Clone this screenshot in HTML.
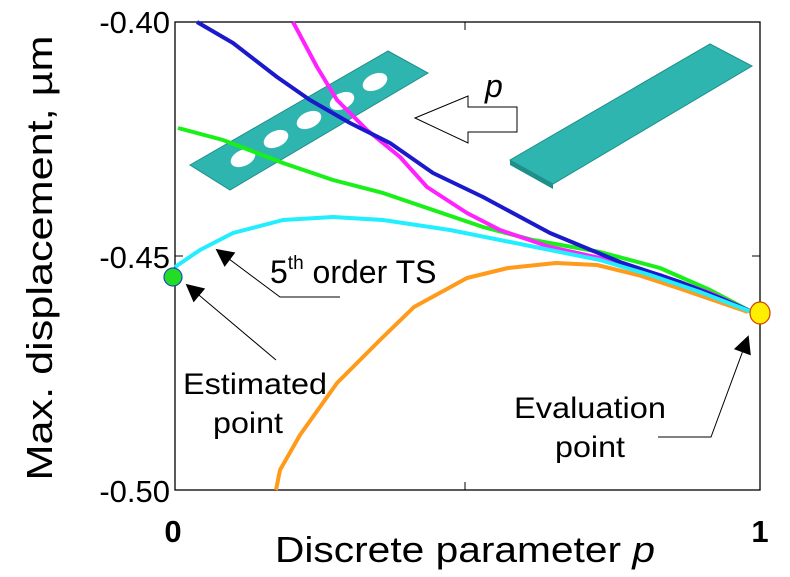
<!DOCTYPE html>
<html><head><style>body{margin:0;background:#fff}svg{display:block}</style></head><body>
<svg width="790" height="577" viewBox="0 0 790 577" xmlns="http://www.w3.org/2000/svg" font-family="Liberation Sans, sans-serif">
<defs>
<marker id="ah2" viewBox="0 0 10 10" markerWidth="22" markerHeight="18" refX="9" refY="5" orient="auto" markerUnits="userSpaceOnUse"><path d="M0,0 L10,5 L0,10 z" fill="#000"/></marker></defs>
<rect x="175" y="22" width="585" height="468" fill="none" stroke="#000" stroke-width="1.3"/>
<line x1="465" y1="490" x2="465" y2="482" stroke="#000"/><line x1="465" y1="22" x2="465" y2="30" stroke="#000"/>
<line x1="175" y1="256" x2="183" y2="256" stroke="#000"/><line x1="760" y1="256" x2="752" y2="256" stroke="#000"/>
<g font-size="31" text-anchor="end"><text x="170" y="33">-0.40</text><text x="170" y="268">-0.45</text><text x="170" y="502">-0.50</text></g>
<g font-size="31" font-weight="bold" text-anchor="middle"><text x="173" y="542">0</text><text x="760" y="542">1</text></g>
<text x="275" y="562" font-size="36" textLength="380" lengthAdjust="spacingAndGlyphs">Discrete parameter <tspan font-style="italic">p</tspan></text>
<text transform="translate(52,258) rotate(-90)" font-size="36" text-anchor="middle" textLength="445" lengthAdjust="spacingAndGlyphs">Max. displacement, µm</text>
<!-- plates -->
<polygon points="190,165 388,51 428,73 230,190" fill="#2fb5b0" stroke="#1f8f8a"/>
<g fill="#fff"><ellipse cx="243" cy="158" rx="13" ry="8" transform="rotate(-25 243 158)"/><ellipse cx="276" cy="139" rx="13" ry="8" transform="rotate(-25 276 139)"/><ellipse cx="309" cy="120" rx="13" ry="8" transform="rotate(-25 309 120)"/><ellipse cx="342" cy="101" rx="13" ry="8" transform="rotate(-25 342 101)"/><ellipse cx="375" cy="82" rx="13" ry="8" transform="rotate(-25 375 82)"/></g>
<polygon points="510,160 710,44 752,66 553,184" fill="#2fb5b0" stroke="#1f8f8a"/>
<polygon points="510,160 553,184 553,189 510,165" fill="#1f8f8a"/>
<polygon points="415,118 468,96 468,107 517,107 517,132 468,132 468,143" fill="#fff" stroke="#000" stroke-width="1"/>
<text x="485" y="97" font-size="32" font-style="italic">p</text>
<!-- curves -->
<g fill="none" stroke-width="4" stroke-linejoin="round">
<polyline stroke="#18f018" points="178,128 223,140 283,163 333,180 383,193 433,210 483,227 533,240 600,252 660,268 710,290 752,312"/>
<polyline stroke="#ff22ff" points="293,22 317,67 337,100 367,130 400,157 427,187 467,213 500,230 550,247 600,258 660,275 710,293 752,312"/>
<polyline stroke="#1a1acc" points="197,22 233,43 277,77 310,100 350,123 390,143 433,173 483,197 550,233 620,262 680,282 720,298 752,312"/>
<polyline stroke="#ff9a1a" points="276,490 280,470 300,435 337,383 380,340 414,307 467,278 508,268 556,263 597,265 638,275 678,288 748,312"/>
<polyline stroke="#22eeff" points="175,267 200,250 233,233 283,220 333,217 383,220 450,230 500,240 550,250 600,260 650,275 700,292 752,312"/>
</g>
<circle cx="173" cy="277" r="9" fill="#22dd22" stroke="#1a4acc" stroke-width="1.2"/>
<ellipse cx="760" cy="313" rx="10" ry="11" fill="#ffee00" stroke="#cc4400" stroke-width="1.2"/>
<!-- annotations -->
<text x="270" y="283" font-size="32">5<tspan font-size="19" dy="-14">th</tspan><tspan dy="14"> order TS</tspan></text>
<polyline points="340,297 280,297 217,250" fill="none" stroke="#000" stroke-width="1" marker-end="url(#ah2)"/>
<line x1="276" y1="360" x2="187" y2="285" stroke="#000" stroke-width="1" marker-end="url(#ah2)"/>
<polyline points="658,437 711,437 748,337" fill="none" stroke="#000" stroke-width="1" marker-end="url(#ah2)"/>
<g font-size="30" lengthAdjust="spacingAndGlyphs">
<text x="183" y="394" textLength="144" lengthAdjust="spacingAndGlyphs">Estimated</text>
<text x="213" y="433" textLength="70" lengthAdjust="spacingAndGlyphs">point</text>
<text x="514" y="418" textLength="152" lengthAdjust="spacingAndGlyphs">Evaluation</text>
<text x="555" y="457" textLength="70" lengthAdjust="spacingAndGlyphs">point</text></g>
</svg>
</body></html>
